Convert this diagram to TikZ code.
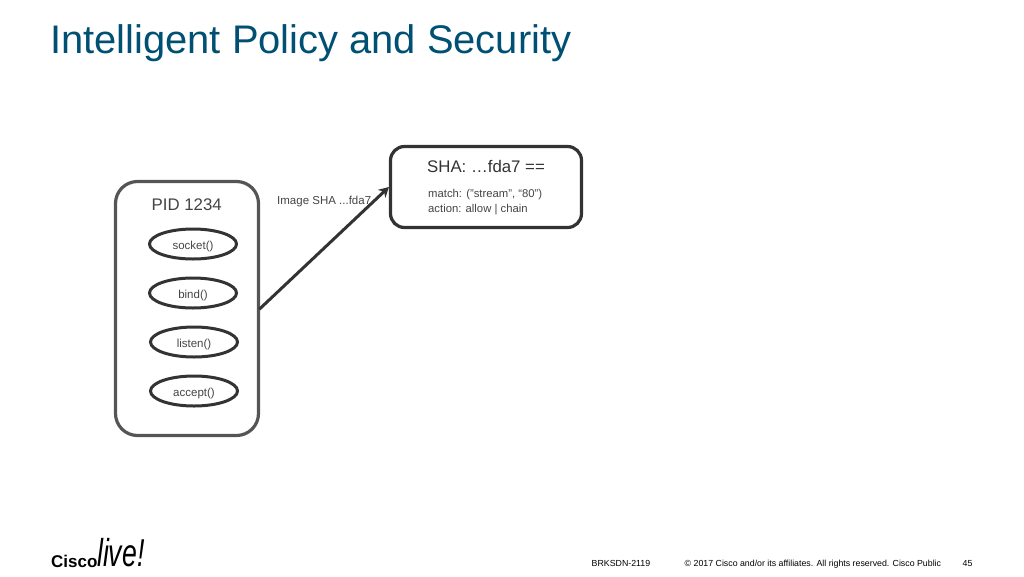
\documentclass[tikz,border=0pt]{standalone}
\usepackage{fontspec}
\setmainfont{Liberation Sans}
\usetikzlibrary{arrows.meta,shapes.geometric}
\definecolor{titleblue}{HTML}{005073}
\definecolor{boxgrey}{HTML}{555555}
\definecolor{textgrey}{HTML}{444444}
\definecolor{callblack}{HTML}{333333}
\newcommand{\fsz}[1]{\fontsize{#1}{#1}\selectfont}
\tikzset{
  process/.style={draw=boxgrey,line width=3.2pt,rounded corners=22pt,minimum width=143pt,minimum height=254pt},
  rule/.style={draw=callblack,line width=3.2pt,rounded corners=14pt,minimum width=191pt,minimum height=81pt},
  call/.style={draw=callblack,ellipse,line width=3pt,minimum width=87pt,minimum height=30pt,inner sep=0pt,text=textgrey,text height=11pt,text depth=0pt,font=\fsz{11.5}},
  label/.style={inner sep=0pt,anchor=base west,text=textgrey},
  foot/.style={inner sep=0pt,anchor=base west,text=black,font=\fsz{8.8}}
}
\begin{document}
\begin{tikzpicture}[x=1pt,y=-1pt]
\useasboundingbox (0,0) rectangle (1024,576);
%Title
\node[label,text=titleblue,font=\fsz{39.9}] (title) at (50,53) {Intelligent Policy and Security};
%Boxes
\node[process] (pid) at (187,308.5) {};
\node[rule] (sha) at (486,187) {};
\node[label,font=\fsz{16.8}] (pidlabel) at (151.5,210) {PID 1234};
\node[label,text=callblack,font=\fsz{16.8}] (shalabel) at (427,172) {SHA: …fda7 ==};
\node[label,font=\fsz{11.3}] (match) at (428,197) {match: (”stream”, “80”)};
\node[label,font=\fsz{11.3}] (action) at (428,212) {action: allow | chain};
%Calls
\node[call] (socket) at (193,244) {socket()};
\node[call] (bind) at (193,293) {bind()};
\node[call] (listen) at (194,342) {listen()};
\node[call] (accept) at (194,391) {accept()};
%Connection
\draw[callblack,line width=3pt,-{Stealth[length=10pt,width=11pt]},shorten <=-1pt] (pid.east) -- (sha.west);
\node[label,font=\fsz{11.5}] (image) at (277,204) {Image SHA ...fda7};
%Footer
\node[label,text=black,font=\fsz{17}\bfseries] (cisco) at (51,567) {Cisco};
\node[label,text=black,font=\fsz{37}\itshape,xscale=0.72,yscale=1.05,transform shape] (live) at (97,566) {live!};
\node[foot] (session) at (591.5,566.5) {BRKSDN-2119};
\node[foot] (copy) at (684.5,566.5) {© 2017  Cisco and/or its affiliates. All rights reserved.   Cisco Public};
\node[foot] (page) at (962.5,566) {45};
\end{tikzpicture}
\end{document}
